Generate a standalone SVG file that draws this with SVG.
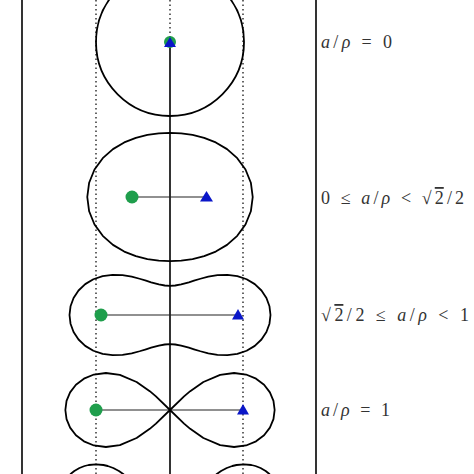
<svg xmlns="http://www.w3.org/2000/svg" width="474" height="474" viewBox="0 0 474 474">
<style>
.curve{fill:none;stroke:#000;stroke-width:1.8;stroke-linejoin:round}
.frame{stroke:#000;stroke-width:1.6}
.dot{stroke:#000;stroke-width:1.2;stroke-dasharray:1.5 3}
.link{stroke:#222;stroke-width:1.1}
.foc1{fill:#1f9e4c}
.foc2{fill:#0a16c8}
.lbl{font-family:"Liberation Serif",serif;font-size:18px;fill:#333}
.it{font-style:italic}
</style>
<rect width="474" height="474" fill="#fff"/>
<g id="guides">
<line class="frame" x1="22" y1="0" x2="22" y2="474"/>
<line class="frame" x1="316" y1="0" x2="316" y2="474"/>
<line class="dot" x1="96" y1="0" x2="96" y2="474"/>
<line class="dot" x1="243" y1="0" x2="243" y2="474"/>
<line class="dot" x1="170" y1="0" x2="170" y2="40"/>
<line class="frame" x1="170" y1="42" x2="170" y2="474"/>
</g>
<g id="connectors">
<line class="link" x1="132" y1="197" x2="206" y2="197"/>
<line class="link" x1="101" y1="315" x2="238" y2="315"/>
<line class="link" x1="96" y1="410" x2="243" y2="410"/>
</g>
<g id="row1">
<circle class="curve" cx="170" cy="42" r="74"/>
<circle class="foc1" cx="170" cy="42" r="6"/>
<polygon class="foc2" points="164,47 176,47 170,37"/>
</g>
<g id="row2">
<path class="curve" d="M252.73,197 L250.86,182.74 245.49,169.53 237.25,158.17 227.04,149.13 215.77,142.46 204.14,137.87 192.57,134.98 181.21,133.41 170,132.91 158.79,133.41 147.43,134.98 135.86,137.87 124.23,142.46 112.96,149.13 102.75,158.17 94.51,169.53 89.14,182.74 87.27,197 89.14,211.26 94.51,224.47 102.75,235.83 112.96,244.87 124.23,251.54 135.86,256.13 147.43,259.02 158.79,260.59 170,261.09 181.21,260.59 192.57,259.02 204.14,256.13 215.77,251.54 227.04,244.87 237.25,235.83 245.49,224.47 250.86,211.26 Z"/>
<circle class="foc1" cx="132" cy="197" r="6.5"/>
<polygon class="foc2" points="200,201.5 213,201.5 206.5,191"/>
</g>
<g id="row3">
<path class="curve" d="M270.50,315 L269.47,306.29 266.43,298.00 261.47,290.49 254.79,284.14 246.63,279.27 237.34,276.12 227.42,274.79 217.49,275.15 208.30,276.70 200.42,278.75 194.00,280.72 188.86,282.33 181.12,284.45 175.20,285.50 170,285.81 164.80,285.50 158.88,284.45 151.14,282.33 146.00,280.72 139.58,278.75 131.70,276.70 122.51,275.15 112.58,274.79 102.66,276.12 93.37,279.27 85.21,284.14 78.53,290.49 73.57,298.00 70.53,306.29 69.50,315 70.53,323.71 73.57,332.00 78.53,339.51 85.21,345.86 93.37,350.73 102.66,353.88 112.58,355.21 122.51,354.85 131.70,353.30 139.58,351.25 146.00,349.28 151.14,347.67 158.88,345.55 164.80,344.50 170,344.19 175.20,344.50 181.12,345.55 188.86,347.67 194.00,349.28 200.42,351.25 208.30,353.30 217.49,354.85 227.42,355.21 237.34,353.88 246.63,350.73 254.79,345.86 261.47,339.51 266.43,332.00 269.47,323.71 Z"/>
<circle class="foc1" cx="101" cy="315" r="6.5"/>
<polygon class="foc2" points="232,319.5 244,319.5 238,309"/>
</g>
<g id="row4">
<path class="curve" d="M170,410 L184.06,396.42 190.22,391.15 203.40,381.97 220.14,374.90 234.09,373 246.04,374.54 256.07,378.68 264.07,384.80 269.91,392.39 273.46,400.95 274.65,410 273.46,419.05 269.91,427.61 264.07,435.20 256.07,441.32 246.04,445.46 234.09,447 220.14,445.10 203.40,438.03 190.22,428.85 184.06,423.58 170,410 155.94,396.42 149.78,391.15 136.60,381.97 119.86,374.90 105.91,373 93.96,374.54 83.93,378.68 75.93,384.80 70.09,392.39 66.54,400.95 65.35,410 66.54,419.05 70.09,427.61 75.93,435.20 83.93,441.32 93.96,445.46 105.91,447 119.86,445.10 136.60,438.03 149.78,428.85 155.94,423.58 Z"/>
<circle class="foc1" cx="96" cy="410" r="6.5"/>
<polygon class="foc2" points="237,414.5 249,414.5 243,404"/>
</g>
<g id="row5">
<path class="curve" d="M205.79,488 L212.48,478 216.82,474 221.07,471 226.76,468 232.29,466 236.55,465 244,464.3 251.32,465 255.40,466 260.54,468 265.68,471 269.38,474 273.03,478 278.35,488"/>
<path class="curve" d="M134.21,488 L127.52,478 123.18,474 118.93,471 113.24,468 107.71,466 103.45,465 96,464.3 88.68,465 84.60,466 79.46,468 74.32,471 70.62,474 66.97,478 61.65,488"/>
</g>
<g id="labels" class="lbl" xml:space="preserve">
<text x="321" y="48" textLength="71" lengthAdjust="spacing"><tspan class="it">a</tspan>/<tspan class="it">ρ</tspan>  = 0</text>
<text x="321" y="204" textLength="143" lengthAdjust="spacing">0 ≤ <tspan class="it">a</tspan>/<tspan class="it">ρ</tspan>  &lt; √<tspan text-decoration="overline">2</tspan>/2</text>
<text x="321" y="321" textLength="148" lengthAdjust="spacing">√<tspan text-decoration="overline">2</tspan>/2  ≤ <tspan class="it">a</tspan>/<tspan class="it">ρ</tspan>  &lt; 1</text>
<text x="321" y="416" textLength="69" lengthAdjust="spacing"><tspan class="it">a</tspan>/<tspan class="it">ρ</tspan>  = 1</text>
</g>
</svg>
